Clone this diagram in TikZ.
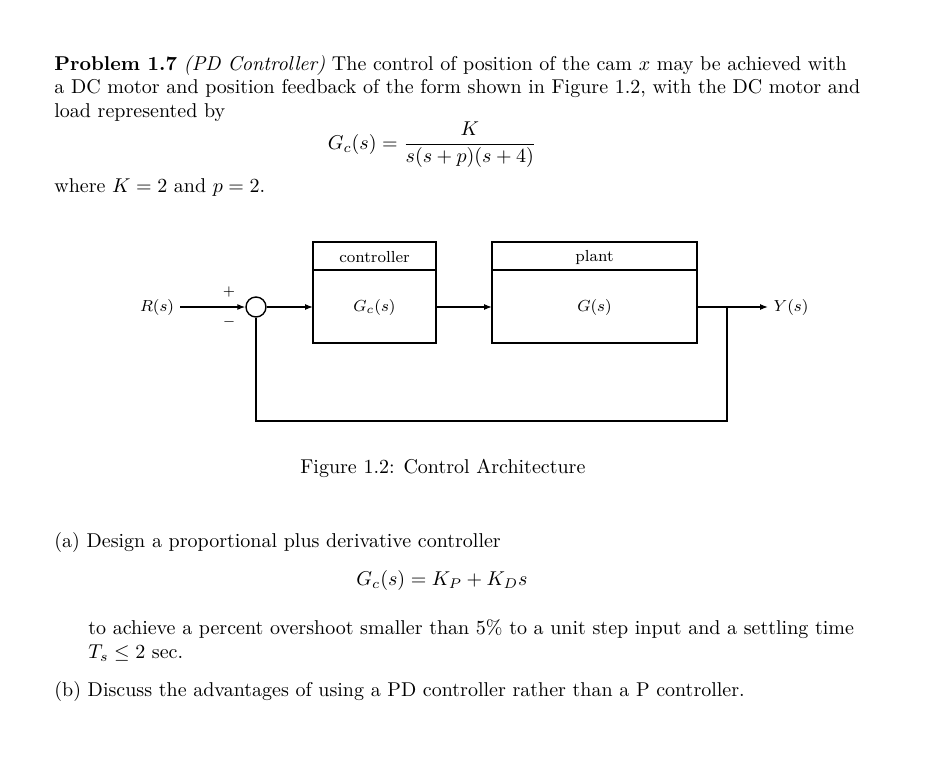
\documentclass[tikz,border=0pt]{standalone}
\usetikzlibrary{arrows.meta}
\begin{document}
\begin{tikzpicture}[x=0.5pt,y=-0.5pt,
  txt/.style={anchor=base west,inner sep=0pt},
  blk/.style={draw,line width=0.6pt},
  lbl/.style={font=\footnotesize,inner sep=0pt},
  sig/.style={line width=0.6pt,-{Latex[length=4pt,width=3pt]}},
  wire/.style={line width=0.6pt}]
\useasboundingbox (0,0) rectangle (947,756);
% text
\node[txt] (l1) at (54,70) {\textbf{Problem 1.7} \textit{(PD Controller)} The control of position of the cam $x$ may be achieved with};
\node[txt] (l2) at (54,93) {a DC motor and position feedback of the form shown in Figure 1.2, with the DC motor and};
\node[txt] (l3) at (54,117) {load represented by};
\node (eq1) at (432,145) {$\displaystyle G_c(s)=\frac{K}{s(s+p)(s+4)}$};
\node[txt] (l4) at (54,192) {where $K=2$ and $p=2$.};
\node[txt] (cap) at (300,473) {Figure 1.2: Control Architecture};
\node[txt] (qa) at (54,547) {(a) Design a proportional plus derivative controller};
\node (eq2) at (442,580) {$G_c(s)=K_P+K_Ds$};
\node[txt] (l5) at (88,634) {to achieve a percent overshoot smaller than 5\% to a unit step input and a settling time};
\node[txt] (l6) at (88,658) {$T_s\le 2$ sec.};
\node[txt] (qb) at (54,696) {(b) Discuss the advantages of using a PD controller rather than a P controller.};
% diagram
\draw[blk] (313,242) rectangle (436,343);
\draw[blk] (313,270) -- (436,270);
\draw[blk] (492,242) rectangle (697,343);
\draw[blk] (492,270) -- (697,270);
\node[lbl] (ct) at (374.5,257) {controller};
\node[lbl] (gc) at (374.5,307) {$G_c(s)$};
\node[lbl] (pt) at (594.5,257) {plant};
\node[lbl] (g) at (594.5,307) {$G(s)$};
\node[draw,circle,minimum size=10pt,inner sep=0pt,line width=0.7pt] (sum) at (256,307) {};
\node[lbl] (r) at (157,307) {$R(s)$};
\node[lbl] (y) at (791,307) {$Y(s)$};
\node[lbl] (plus) at (229,292) {\scriptsize$+$};
\node[lbl] (minus) at (229,322) {\scriptsize$-$};
\coordinate (ctrlin) at (313,307);
\coordinate (ctrlout) at (436,307);
\coordinate (plin) at (492,307);
\coordinate (plout) at (697,307);
\coordinate (br) at (727,307);
\coordinate (yend) at (768,307);
\coordinate (fb1) at (727,421);
\coordinate (fb2) at (256,421);
\draw[sig] (r.east) ++(6,0) -- (sum.west);
\draw[sig] (sum.east) -- (ctrlin);
\draw[sig] (ctrlout) -- (plin);
\draw[sig] (plout) -- (yend);
\draw[wire] (br) -- (fb1) -- (fb2) -- (sum.south);
\end{tikzpicture}
\end{document}
